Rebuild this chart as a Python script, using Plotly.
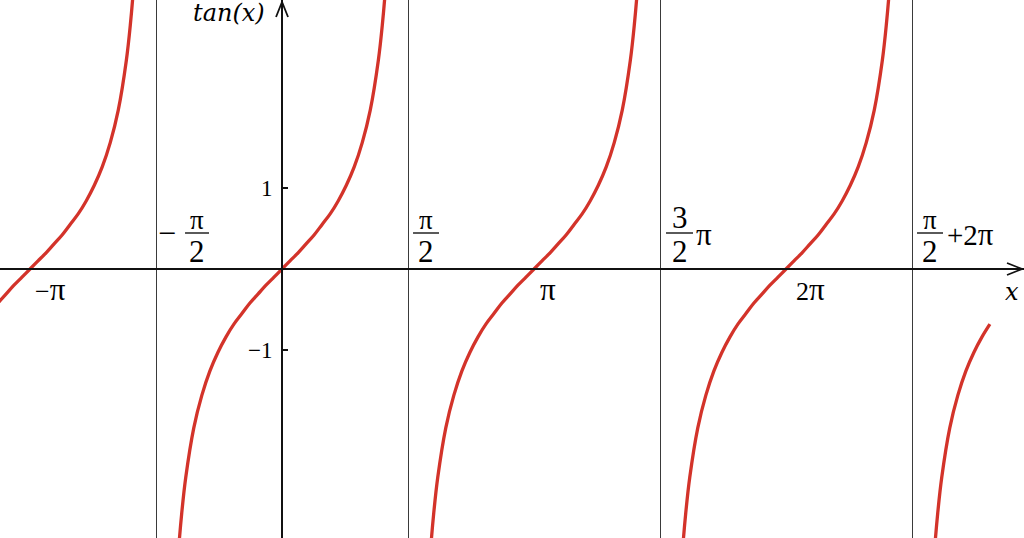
import plotly.graph_objects as go

# ---- data ----
# one branch of tan: offsets from the branch centre and the values
branch_offsets = [-1.35, -1.3, -1.25, -1.2, -1.1, -1.0, -0.9, -0.8, -0.7, -0.6, -0.5, -0.4,
                  -0.3, -0.2, -0.1, 0.0, 0.1, 0.2, 0.3, 0.4, 0.5, 0.6, 0.7, 0.8, 0.9, 1.0,
                  1.1, 1.2, 1.25, 1.3, 1.35]
branch_values = [-4.46, -3.60, -3.01, -2.57, -1.96, -1.56, -1.26, -1.03, -0.84, -0.68, -0.55, -0.42,
                 -0.31, -0.20, -0.10, 0.0, 0.10, 0.20, 0.31, 0.42, 0.55, 0.68, 0.84, 1.03, 1.26, 1.56,
                 1.96, 2.57, 3.01, 3.60, 4.46]
PI = 3.14159
branch_centres = [-PI, 0.0, PI, 2 * PI, 3 * PI]   # zero crossings: −π, 0, π, 2π, 3π
curve_end_x = 8.92                                  # where the drawn curve stops at the right
asymptotes = [-PI / 2, PI / 2, 3 * PI / 2, 5 * PI / 2]
ytick_vals = [-1, 1]
ytick_text = ["\u22121", "1"]
zero_label_x = [-PI, PI, 2 * PI]

X_RANGE = [-3.516, 9.25]
Y_RANGE = [-3.32, 3.32]

RED = "#d3332a"
SERIF = "Liberation Serif"
ITALIC = "DejaVu Serif"

def pi_span(size):
    return '<span style="font-size:%dpx">\u03c0</span>' % size

zero_labels = ["\u2212" + pi_span(31), pi_span(31), "2" + pi_span(31)]

fig = go.Figure()

for c in branch_centres:
    xs, ys = [], []
    for u, v in zip(branch_offsets, branch_values):
        if c + u <= curve_end_x + 1e-9:
            xs.append(c + u)
            ys.append(v)
    fig.add_trace(go.Scatter(x=xs, y=ys, mode="lines",
                             line=dict(color=RED, width=3.3, shape="spline", smoothing=1.0),
                             hoverinfo="skip", showlegend=False))

y0_paper = (0 - Y_RANGE[0]) / (Y_RANGE[1] - Y_RANGE[0])
x0_paper = (0 - X_RANGE[0]) / (X_RANGE[1] - X_RANGE[0])

fig.update_layout(
    width=1024, height=538,
    margin=dict(l=0, r=0, t=0, b=0),
    paper_bgcolor="white", plot_bgcolor="white",
    showlegend=False,
    xaxis=dict(range=X_RANGE, anchor="free", position=y0_paper,
               showline=True, linecolor="#111111", linewidth=2,
               tickvals=asymptotes, showticklabels=False, ticks="",
               showgrid=True, gridcolor="#3a3a3a", gridwidth=1,
               zeroline=False, fixedrange=True),
    yaxis=dict(range=Y_RANGE, anchor="free", position=x0_paper,
               showline=True, linecolor="#111111", linewidth=2,
               tickvals=ytick_vals, ticktext=ytick_text,
               ticks="inside", ticklen=5, tickwidth=1.5, tickcolor="#111111",
               tickfont=dict(family=SERIF, size=23, color="black"),
               ticklabelstandoff=4,
               showgrid=False, zeroline=False, fixedrange=True),
)

ann = []
def text(x, y, s, size, xshift=0, yshift=0, xanchor="center", italic=False, family=SERIF):
    ann.append(dict(x=x, y=y, xref="x", yref="y", text=s, showarrow=False,
                    xanchor=xanchor, yanchor="middle", xshift=xshift, yshift=yshift,
                    font=dict(family=family, size=size, color="black",
                              style="italic" if italic else "normal")))

shapes = []
def bar(xa, x0, x1, yup):
    shapes.append(dict(type="line", xref="x", yref="y", xsizemode="pixel", ysizemode="pixel",
                       xanchor=xa, yanchor=0, x0=x0, x1=x1, y0=yup, y1=yup,
                       line=dict(color="black", width=1.3)))

# labels at the zero crossings, below the x axis
for s, xv, dx in zip(zero_labels, zero_label_x, [20, 14, 24]):
    text(xv, 0, s, 26, xshift=dx, yshift=-20)

FD = 31   # fraction digits
FP = 27   # fraction numerator pi
# −π/2
a = asymptotes[0]
text(a, 0, "\u2212", 32, xshift=11, yshift=36)
text(a, 0, "\u03c0", FP, xshift=41, yshift=49)
bar(a, 29, 53, 36)
text(a, 0, "2", FD, xshift=41, yshift=18)
# π/2
a = asymptotes[1]
text(a, 0, "\u03c0", FP, xshift=18, yshift=49)
bar(a, 5, 31, 36)
text(a, 0, "2", FD, xshift=18, yshift=18)
# 3/2 π
a = asymptotes[2]
text(a, 0, "3", FD, xshift=20, yshift=52)
bar(a, 6, 33, 36)
text(a, 0, "2", FD, xshift=20, yshift=18)
text(a, 0, "\u03c0", 31, xshift=44, yshift=35)
# π/2 + 2π
a = asymptotes[3]
text(a, 0, "\u03c0", FP, xshift=18, yshift=49)
bar(a, 5, 31, 36)
text(a, 0, "2", FD, xshift=18, yshift=18)
text(a, 0, "+2" + pi_span(31), 29, xshift=33, yshift=35, xanchor="left")

# axis names
ann.append(dict(x=1.0, y=0, xref="paper", yref="y", text="x", showarrow=False,
                xanchor="right", yanchor="middle", xshift=-3, yshift=-23,
                font=dict(family=ITALIC, size=24, color="black", style="italic")))
ann.append(dict(x=0, y=1.0, xref="x", yref="paper", text="tan(x)", showarrow=False,
                xanchor="right", yanchor="top", xshift=-15, yshift=3,
                font=dict(family=ITALIC, size=24, color="black", style="italic")))

# open arrowheads
shapes.append(dict(type="path", xref="x", yref="y", xsizemode="pixel", ysizemode="pixel",
                   xanchor=X_RANGE[1], yanchor=0, path="M -17,6 L -2,0 L -17,-6",
                   line=dict(color="#111111", width=1.8)))
shapes.append(dict(type="path", xref="x", yref="y", xsizemode="pixel", ysizemode="pixel",
                   xanchor=0, yanchor=Y_RANGE[1], path="M -6,-17 L 0,-2 L 6,-17",
                   line=dict(color="#111111", width=1.8)))

fig.update_layout(annotations=ann, shapes=shapes)

fig.write_html("out.html", config={"displayModeBar": False},
               post_script="document.body.style.margin='0';document.body.style.overflow='hidden';")
